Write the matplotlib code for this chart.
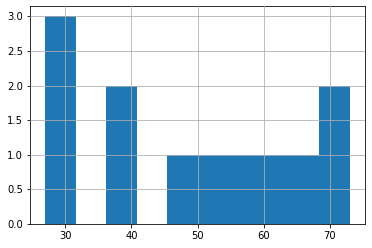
import matplotlib
matplotlib.use("Agg")
import matplotlib.pyplot as plt

values = [27, 29, 31, 38, 40, 47, 52, 56, 61, 66, 70, 73]
n_bins = 10

fig = plt.figure(figsize=(372/72, 248/72), dpi=72)
ax = fig.add_axes([0.081, 0.097, 0.9, 0.879])
ax.hist(values, bins=n_bins, color="#1f77b4")
ax.grid(True, color="#b0b0b0", linewidth=0.8)
ax.set_axisbelow(False)
ax.tick_params(labelsize=10)
fig.savefig("out.png", dpi=72, facecolor="white")
